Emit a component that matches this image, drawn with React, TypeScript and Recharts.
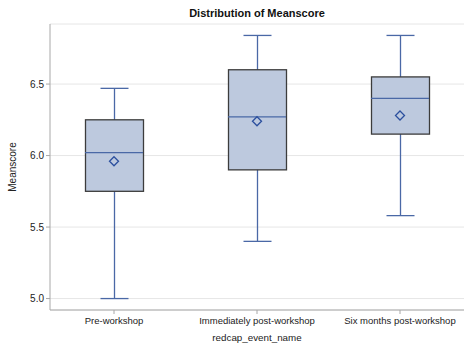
import React from "react";
import { ComposedChart, Bar, Scatter, XAxis, YAxis, CartesianGrid } from "recharts";

const categories = ["Pre-workshop", "Immediately post-workshop", "Six months post-workshop"];
const minValues = [5.0, 5.4, 5.58];
const q1Values = [5.75, 5.9, 6.15];
const medianValues = [6.02, 6.27, 6.4];
const q3Values = [6.25, 6.6, 6.55];
const maxValues = [6.47, 6.84, 6.84];
const meanValues = [5.96, 6.24, 6.28];
const yTicks = [5.0, 5.5, 6.0, 6.5];

const data = categories.map((c, i) => ({
  name: c,
  whisker: [minValues[i], maxValues[i]],
  box: [q1Values[i], q3Values[i]],
  median: medianValues[i],
  mean: meanValues[i],
}));

const BLUE = "#4a68a6";
const FRAME = "#a8a8a8";
const FONT = "Arial, 'Liberation Sans', sans-serif";

const WhiskerShape = (props: any) => {
  const { x, y, width, height } = props;
  const cx = x + width / 2;
  return (
    <g>
      <line x1={cx} x2={cx} y1={y} y2={y + height} stroke={BLUE} strokeWidth={1.3} />
      <line x1={x} x2={x + width} y1={y} y2={y} stroke={BLUE} strokeWidth={1.3} />
      <line x1={x} x2={x + width} y1={y + height} y2={y + height} stroke={BLUE} strokeWidth={1.3} />
    </g>
  );
};

const BoxShape = (props: any) => {
  const { x, y, width, height } = props;
  return <rect x={x} y={y} width={width} height={height} fill="#bdc9de" stroke="#3c3c3c" strokeWidth={1.3} />;
};

const MedianShape = (props: any) => {
  const { cx, cy } = props;
  return <line x1={cx - 29} x2={cx + 29} y1={cy} y2={cy} stroke={BLUE} strokeWidth={1.3} />;
};

const MeanShape = (props: any) => {
  const { cx, cy } = props;
  const r = 4.5;
  return (
    <polygon
      points={`${cx},${cy - r} ${cx + r},${cy} ${cx},${cy + r} ${cx - r},${cy}`}
      fill="none"
      stroke="#2b4f9e"
      strokeWidth={1.3}
    />
  );
};

const pad = { left: -7.5, right: -7.5 };
const yDomain: [number, number] = [4.92, 6.92];

export default function App() {
  return (
    <div style={{ position: "absolute", left: 0, top: 0, width: 474, height: 353, background: "#fff", fontFamily: FONT }}>
      <div
        style={{
          position: "absolute",
          left: 50,
          width: 414,
          top: 7,
          textAlign: "center",
          fontSize: 11,
          fontWeight: "bold",
          color: "#111",
        }}
      >
        Distribution of Meanscore
      </div>
      <ComposedChart
        width={474}
        height={353}
        data={data}
        margin={{ top: 24, right: 10, bottom: 0, left: 0 }}
        barGap={0}
      >
        <CartesianGrid horizontal vertical={false} stroke="#e6e6e6" yAxisId="left" xAxisId="main" />
        <XAxis xAxisId="box" dataKey="name" type="category" padding={pad} height={0} hide />
        <XAxis
          xAxisId="top"
          dataKey="name"
          type="category"
          orientation="top"
          padding={pad}
          height={0}
          tick={false}
          tickLine={false}
          stroke={FRAME}
        />
        <XAxis
          xAxisId="main"
          dataKey="name"
          type="category"
          padding={pad}
          height={43}
          tickSize={4}
          tickMargin={3}
          stroke={FRAME}
          tick={{ fill: "#222", fontSize: 9.5, fontFamily: FONT }}
          label={{ value: "redcap_event_name", position: "insideBottom", offset: 12, fill: "#222", fontSize: 9.8, fontFamily: FONT }}
        />
        <YAxis
          yAxisId="left"
          type="number"
          domain={yDomain}
          ticks={yTicks}
          allowDataOverflow
          width={50}
          tickSize={4}
          tickMargin={2}
          stroke={FRAME}
          tickFormatter={(v: number) => v.toFixed(1)}
          tick={{ fill: "#222", fontSize: 10, fontFamily: FONT }}
          label={{ value: "Meanscore", angle: -90, position: "insideLeft", offset: 12, fill: "#222", fontSize: 10, fontFamily: FONT, style: { textAnchor: "middle" } }}
        />
        <YAxis
          yAxisId="right"
          type="number"
          orientation="right"
          domain={yDomain}
          allowDataOverflow
          width={0}
          tick={false}
          tickLine={false}
          stroke={FRAME}
        />
        <Bar
          xAxisId="main"
          yAxisId="left"
          dataKey="whisker"
          barSize={28}
          shape={WhiskerShape}
          isAnimationActive={false}
        />
        <Bar
          xAxisId="box"
          yAxisId="left"
          dataKey="box"
          barSize={58}
          shape={BoxShape}
          isAnimationActive={false}
        />
        <Scatter xAxisId="main" yAxisId="left" dataKey="median" shape={MedianShape} isAnimationActive={false} />
        <Scatter xAxisId="main" yAxisId="left" dataKey="mean" shape={MeanShape} isAnimationActive={false} />
      </ComposedChart>
    </div>
  );
}
